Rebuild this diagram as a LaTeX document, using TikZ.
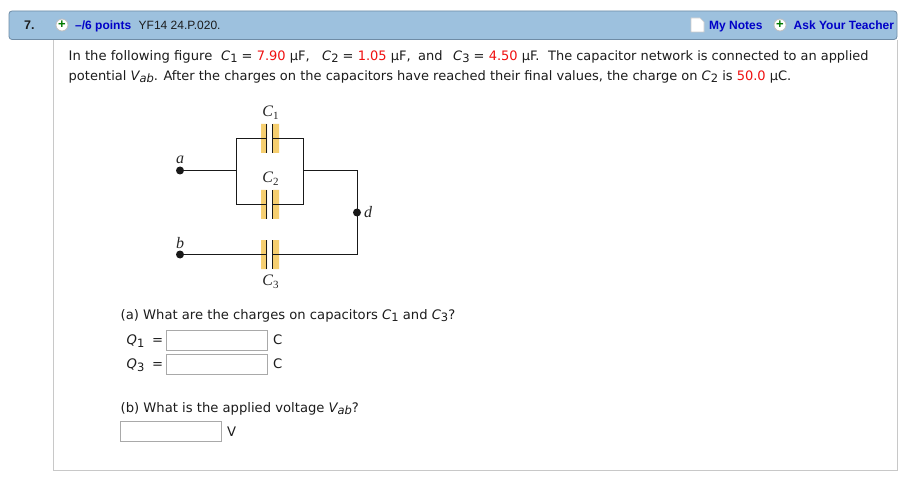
\documentclass[tikz,border=0pt]{standalone}
\usepackage{fontspec}
\setmainfont{DejaVu Sans}
\newfontfamily\hdr{Liberation Sans}
\newfontfamily\fig{Liberation Serif}
\definecolor{hdrfill}{HTML}{9DC1DE}
\definecolor{hdrline}{HTML}{6F8CA6}
\definecolor{linkblue}{HTML}{0000C8}
\definecolor{boxgray}{HTML}{C8C8C8}
\definecolor{inpgray}{HTML}{A9A9A9}
\definecolor{capyellow}{HTML}{F6CF70}
\definecolor{txt}{HTML}{1C1C1C}
\definecolor{valred}{HTML}{F01010}
\definecolor{plusgreen}{HTML}{007A00}
\newcommand{\sv}[2]{{\itshape #1}\raisebox{-2.5pt}{\fontsize{11.5}{12}\selectfont\upshape #2}}
\newcommand{\svi}[2]{{\itshape #1}\raisebox{-2.5pt}{\fontsize{11.5}{12}\selectfont\itshape #2}}
\newcommand{\red}[1]{\textcolor{valred}{#1}}
\newcommand{\figC}[1]{{\itshape C}\raisebox{-3pt}{\fontsize{11}{12}\selectfont #1}}
\tikzset{
  body/.style={inner sep=0pt,anchor=base west,text=txt,font=\fontsize{13}{15}\selectfont},
  wide/.style={body,font=\fontsize{13.15}{15}\selectfont},
  hb/.style={inner sep=0pt,anchor=base west,font=\hdr\fontsize{12}{14}\selectfont},
  hlink/.style={hb,text=linkblue,font=\hdr\bfseries\fontsize{12}{14}\selectfont},
  figl/.style={inner sep=0pt,text=black!85,font=\fig\fontsize{16}{18}\selectfont},
  inp/.style={draw=inpgray,line width=.9pt,fill=white,inner sep=0pt,anchor=north west},
  wire/.style={draw=black!90,line width=.9pt},
  dotn/.style={circle,fill=black!90,inner sep=0pt,minimum size=8pt},
  plusb/.style={circle,draw=black!25,fill=white,line width=.8pt,inner sep=0pt,minimum size=12pt},
  plusg/.style={inner sep=0pt,text=plusgreen,font=\hdr\bfseries\fontsize{13}{13}\selectfont}
}
\begin{document}
\begin{tikzpicture}[x=1pt,y=-1pt]
\useasboundingbox (0,0) rectangle (910,497);
\fill[white] (0,0) rectangle (910,497);
% frame
\draw[boxgray,line width=.8pt] (53.5,40) -- (53.5,470.5) -- (897.5,470.5) -- (897.5,40);
\draw[hdrline,line width=.8pt,fill=hdrfill,rounded corners=3pt] (9,11) rectangle (897,39.5);
% header
\node[hb,font=\hdr\bfseries\fontsize{12.5}{14}\selectfont,text=txt] (num) at (24,29.5) {7.};
\node[plusb] (p1) at (62,25) {};
\node[plusg] (p1g) at (62,24.5) {+};
\node[hlink] (pts) at (75,29.5) {–/6 points};
\node[hb,text=txt] (code) at (138.5,29.5) {YF14 24.P.020.};
\fill[white,draw=black!20,line width=.6pt] (691,18) -- (700,18) -- (704,22) -- (704,32) -- (691,32) -- cycle;
\node[hlink] (notes) at (709,29.5) {My Notes};
\node[plusb] (p2) at (780,25) {};
\node[plusg] (p2g) at (780,24.5) {+};
\node[hlink] (ask) at (793.5,29.5) {Ask Your Teacher};
% problem text
\node[wide] (l1a) at (68.5,60.5) {In the following figure};
\node[body] (l1b) at (221,60.5) {\sv{C}{1} = \red{7.90} µF,};
\node[body] (l1c) at (322,60.5) {\sv{C}{2} = \red{1.05} µF,};
\node[body] (l1c2) at (418,60.5) {and};
\node[body] (l1d) at (453,60.5) {\sv{C}{3} = \red{4.50} µF.};
\node[body,font=\fontsize{12.93}{15}\selectfont] (l1e) at (548,60.5) {The capacitor network is connected to an applied};
\node[body] (l2a) at (68.5,80.5) {potential \svi{V}{ab}. After the charges on the capacitors have reached their final values, the charge on \sv{C}{2} is \red{50.0} µC.};
% circuit
\fill[capyellow] (261,124) rectangle (267,153) (273,124) rectangle (279,153)
                 (261,190) rectangle (267,219) (273,190) rectangle (279,219)
                 (261,240) rectangle (267,269) (273,240) rectangle (279,269);
\coordinate (c1l) at (266.5,138.5); \coordinate (c1r) at (272.5,138.5);
\coordinate (c2l) at (266.5,204.5); \coordinate (c2r) at (272.5,204.5);
\coordinate (c3l) at (266.5,254.5); \coordinate (c3r) at (272.5,254.5);
\coordinate (jl) at (236.5,170.5); \coordinate (jr) at (303.5,170.5);
\coordinate (tl) at (236.5,138.5); \coordinate (tr) at (303.5,138.5);
\coordinate (bl) at (236.5,204.5); \coordinate (br) at (303.5,204.5);
\coordinate (ne) at (357,170.5); \coordinate (se) at (357,254.5);
\foreach \n in {c1l,c1r,c2l,c2r,c3l,c3r}{\draw[wire] ([yshift=-14.5pt]\n) -- ([yshift=14.5pt]\n);}
\node[dotn] (a) at (180,170.5) {};
\node[dotn] (b) at (180,254.5) {};
\node[dotn] (d) at (357,212.5) {};
\draw[wire] (a.center) -- (jl);
\draw[wire] (c1l) -- (tl) -- (bl) -- (c2l);
\draw[wire] (c1r) -- (tr) -- (br) -- (c2r);
\draw[wire] (jr) -- (ne) -- (d.center);
\draw[wire] (d.center) -- (se) -- (c3r);
\draw[wire] (b.center) -- (c3l);
\node[figl] (la) at (180,159.5) {\itshape a};
\node[figl] (lb) at (180,243) {\itshape b};
\node[figl] (ld) at (368,212) {\itshape d};
\node[figl] (lc1) at (270.5,113) {\figC{1}};
\node[figl] (lc2) at (270.5,179) {\figC{2}};
\node[figl] (lc3) at (270.5,282) {\figC{3}};
% questions
\node[wide] (qa) at (120.5,319) {(a) What are the charges on capacitors \sv{C}{1} and \sv{C}{3}?};
\node[wide] (q1) at (126.5,344.5) {\sv{Q}{1}};
\node[wide] (e1) at (152,344.5) {=};
\node[inp,minimum width=101pt,minimum height=20pt] (i1) at (166,330) {};
\node[wide] (u1) at (273,344.5) {C};
\node[wide] (q3) at (126.5,368.5) {\sv{Q}{3}};
\node[wide] (e3) at (152,368.5) {=};
\node[inp,minimum width=101pt,minimum height=20pt] (i3) at (166,354) {};
\node[wide] (u3) at (273,368.5) {C};
\node[wide] (qb) at (120.5,412) {(b) What is the applied voltage \svi{V}{ab}?};
\node[inp,minimum width=101pt,minimum height=20pt] (i4) at (120,421) {};
\node[wide] (u4) at (227,436) {V};
\end{tikzpicture}
\end{document}
